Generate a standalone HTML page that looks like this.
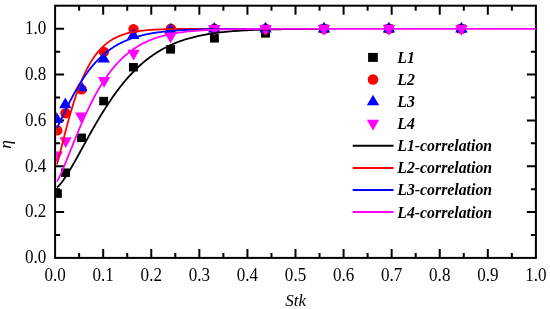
<!DOCTYPE html>
<html><head><meta charset="utf-8"><title>chart</title>
<style>
html,body{margin:0;padding:0;background:#fff;}
svg{display:block;}
text{font-family:"Liberation Serif","Times New Roman",serif;fill:#000;}
.tl{font-size:17.5px;}
.lg{font-size:15.8px;font-weight:bold;font-style:italic;}
.ax{font-size:17px;font-style:italic;}
</style></head><body>
<svg width="550" height="309" viewBox="0 0 550 309">
<rect width="550" height="309" fill="#fff"/>
<defs><clipPath id="c"><rect x="56.10" y="5.70" width="479.80" height="252.20"/></clipPath></defs>
<g stroke="#000" stroke-width="2.0" fill="none">
<rect x="55.10" y="5.70" width="480.80" height="252.20"/>
<path d="M79.14,257.90v-5.00M79.14,5.70v5.00M103.18,257.90v-9.00M103.18,5.70v9.00M127.22,257.90v-5.00M127.22,5.70v5.00M151.26,257.90v-9.00M151.26,5.70v9.00M175.30,257.90v-5.00M175.30,5.70v5.00M199.34,257.90v-9.00M199.34,5.70v9.00M223.38,257.90v-5.00M223.38,5.70v5.00M247.42,257.90v-9.00M247.42,5.70v9.00M271.46,257.90v-5.00M271.46,5.70v5.00M295.50,257.90v-9.00M295.50,5.70v9.00M319.54,257.90v-5.00M319.54,5.70v5.00M343.58,257.90v-9.00M343.58,5.70v9.00M367.62,257.90v-5.00M367.62,5.70v5.00M391.66,257.90v-9.00M391.66,5.70v9.00M415.70,257.90v-5.00M415.70,5.70v5.00M439.74,257.90v-9.00M439.74,5.70v9.00M463.78,257.90v-5.00M463.78,5.70v5.00M487.82,257.90v-9.00M487.82,5.70v9.00M511.86,257.90v-5.00M511.86,5.70v5.00M55.10,234.99h5.00M535.90,234.99h-5.00M55.10,212.08h9.00M535.90,212.08h-9.00M55.10,189.17h5.00M535.90,189.17h-5.00M55.10,166.26h9.00M535.90,166.26h-9.00M55.10,143.35h5.00M535.90,143.35h-5.00M55.10,120.44h9.00M535.90,120.44h-9.00M55.10,97.53h5.00M535.90,97.53h-5.00M55.10,74.62h9.00M535.90,74.62h-9.00M55.10,51.71h5.00M535.90,51.71h-5.00M55.10,28.80h9.00"/>
</g>
<g clip-path="url(#c)">
<rect x="52.95" y="189.35" width="8.90" height="8.50" fill="#000"/>
<rect x="61.05" y="168.45" width="8.90" height="8.50" fill="#000"/>
<rect x="77.05" y="133.55" width="8.90" height="8.50" fill="#000"/>
<rect x="99.20" y="96.85" width="8.90" height="8.50" fill="#000"/>
<rect x="128.95" y="63.00" width="8.90" height="8.50" fill="#000"/>
<rect x="166.15" y="45.15" width="8.90" height="8.50" fill="#000"/>
<rect x="209.95" y="34.05" width="8.90" height="8.50" fill="#000"/>
<rect x="261.05" y="29.15" width="8.90" height="8.50" fill="#000"/>
<rect x="319.55" y="24.55" width="8.90" height="8.50" fill="#000"/>
<rect x="384.45" y="24.55" width="8.90" height="8.50" fill="#000"/>
<rect x="456.95" y="24.55" width="8.90" height="8.50" fill="#000"/>
<circle cx="57.30" cy="130.40" r="5.20" fill="#f00"/>
<circle cx="65.50" cy="113.30" r="5.20" fill="#f00"/>
<circle cx="81.70" cy="89.40" r="5.20" fill="#f00"/>
<circle cx="103.90" cy="51.90" r="5.20" fill="#f00"/>
<circle cx="133.50" cy="29.10" r="5.20" fill="#f00"/>
<circle cx="170.90" cy="28.70" r="5.20" fill="#f00"/>
<circle cx="214.30" cy="28.80" r="5.20" fill="#f00"/>
<circle cx="265.50" cy="28.80" r="5.20" fill="#f00"/>
<circle cx="324.00" cy="28.80" r="5.20" fill="#f00"/>
<circle cx="388.90" cy="28.80" r="5.20" fill="#f00"/>
<circle cx="461.40" cy="28.80" r="5.20" fill="#f00"/>
<polygon points="56.80,112.20 50.60,122.90 63.00,122.90" fill="#00f"/>
<polygon points="65.30,97.50 59.10,108.20 71.50,108.20" fill="#00f"/>
<polygon points="81.30,80.60 75.10,91.30 87.50,91.30" fill="#00f"/>
<polygon points="103.70,51.90 97.50,62.60 109.90,62.60" fill="#00f"/>
<polygon points="133.30,28.40 127.10,39.10 139.50,39.10" fill="#00f"/>
<polygon points="170.50,23.00 164.30,33.70 176.70,33.70" fill="#00f"/>
<polygon points="214.20,21.90 208.00,32.60 220.40,32.60" fill="#00f"/>
<polygon points="265.50,21.80 259.30,32.50 271.70,32.50" fill="#00f"/>
<polygon points="324.00,21.80 317.80,32.50 330.20,32.50" fill="#00f"/>
<polygon points="388.90,21.80 382.70,32.50 395.10,32.50" fill="#00f"/>
<polygon points="461.40,21.80 455.20,32.50 467.60,32.50" fill="#00f"/>
<polygon points="541.20,21.80 535.00,32.50 547.40,32.50" fill="#00f"/>
<polygon points="56.80,162.30 50.60,151.60 63.00,151.60" fill="#f0f"/>
<polygon points="65.70,148.00 59.50,137.30 71.90,137.30" fill="#f0f"/>
<polygon points="81.20,123.30 75.00,112.60 87.40,112.60" fill="#f0f"/>
<polygon points="104.10,87.70 97.90,77.00 110.30,77.00" fill="#f0f"/>
<polygon points="133.60,60.50 127.40,49.80 139.80,49.80" fill="#f0f"/>
<polygon points="170.60,43.30 164.40,32.60 176.80,32.60" fill="#f0f"/>
<polygon points="214.30,35.70 208.10,25.00 220.50,25.00" fill="#f0f"/>
<polygon points="265.50,35.80 259.30,25.10 271.70,25.10" fill="#f0f"/>
<polygon points="324.00,35.80 317.80,25.10 330.20,25.10" fill="#f0f"/>
<polygon points="388.90,35.80 382.70,25.10 395.10,25.10" fill="#f0f"/>
<polygon points="461.40,35.80 455.20,25.10 467.60,25.10" fill="#f0f"/>
<polygon points="541.20,35.80 535.00,25.10 547.40,25.10" fill="#f0f"/>
<path d="M56.93,187.51 L57.89,186.69 L58.84,185.74 L59.80,184.70 L60.76,183.56 L61.72,182.35 L62.68,181.08 L63.63,179.75 L64.59,178.36 L65.55,176.93 L66.51,175.46 L67.47,173.95 L68.42,172.40 L69.38,170.83 L70.34,169.23 L71.30,167.60 L72.26,165.96 L73.22,164.29 L74.17,162.61 L75.13,160.91 L76.09,159.21 L77.05,157.49 L78.01,155.76 L78.96,154.03 L79.92,152.29 L80.88,150.54 L81.84,148.80 L82.80,147.05 L83.75,145.31 L84.71,143.57 L85.67,141.82 L86.63,140.09 L87.59,138.35 L88.55,136.63 L89.50,134.91 L90.46,133.20 L91.42,131.49 L92.38,129.80 L93.34,128.12 L94.29,126.44 L95.25,124.78 L96.21,123.13 L97.17,121.49 L98.13,119.87 L99.08,118.26 L100.04,116.66 L101.00,115.08 L101.96,113.51 L102.92,111.96 L103.88,110.43 L104.83,108.91 L105.79,107.40 L106.75,105.91 L107.71,104.44 L108.67,102.99 L109.62,101.56 L110.58,100.14 L111.54,98.74 L112.50,97.35 L113.46,95.99 L114.41,94.64 L115.37,93.31 L116.33,92.00 L117.29,90.71 L118.25,89.43 L119.21,88.18 L120.16,86.94 L121.12,85.72 L122.08,84.52 L123.04,83.34 L124.00,82.17 L124.95,81.03 L125.91,79.90 L126.87,78.79 L127.83,77.70 L128.79,76.63 L129.74,75.57 L130.70,74.53 L131.66,73.51 L132.62,72.51 L133.58,71.52 L134.54,70.56 L135.49,69.61 L136.45,68.67 L137.41,67.75 L138.37,66.85 L139.33,65.97 L140.28,65.10 L141.24,64.25 L142.20,63.42 L143.16,62.60 L144.12,61.80 L145.07,61.01 L146.03,60.24 L146.99,59.48 L147.95,58.74 L148.91,58.01 L149.87,57.30 L150.82,56.60 L151.78,55.92 L152.74,55.25 L153.70,54.59 L154.66,53.95 L155.61,53.32 L156.57,52.71 L157.53,52.11 L158.49,51.52 L159.45,50.94 L160.40,50.38 L161.36,49.82 L162.32,49.28 L163.28,48.76 L164.24,48.24 L165.20,47.74 L166.15,47.24 L167.11,46.76 L168.07,46.29 L169.03,45.83 L169.99,45.38 L170.94,44.94 L171.90,44.51 L172.86,44.09 L173.82,43.68 L174.78,43.28 L175.73,42.89 L176.69,42.51 L177.65,42.14 L178.61,41.77 L179.57,41.42 L180.53,41.07 L181.48,40.74 L182.44,40.41 L183.40,40.09 L184.36,39.77 L185.32,39.47 L186.27,39.17 L187.23,38.88 L188.19,38.60 L189.15,38.32 L190.11,38.05 L191.06,37.79 L192.02,37.53 L192.98,37.29 L193.94,37.04 L194.90,36.81 L195.86,36.58 L196.81,36.35 L197.77,36.13 L198.73,35.92 L199.69,35.71 L200.65,35.51 L201.60,35.32 L202.56,35.13 L203.52,34.94 L204.48,34.76 L205.44,34.58 L206.39,34.41 L207.35,34.24 L208.31,34.08 L209.27,33.93 L210.23,33.77 L211.19,33.62 L212.14,33.48 L213.10,33.34 L214.06,33.20 L215.02,33.07 L215.98,32.94 L216.93,32.81 L217.89,32.69 L218.85,32.57 L219.81,32.45 L220.77,32.34 L221.72,32.23 L222.68,32.13 L223.64,32.02 L224.60,31.92 L225.56,31.83 L226.52,31.73 L227.47,31.64 L228.43,31.55 L229.39,31.46 L230.35,31.38 L231.31,31.30 L232.26,31.22 L233.22,31.14 L234.18,31.07 L235.14,31.00 L236.10,30.93 L237.05,30.86 L238.01,30.79 L238.97,30.73 L239.93,30.67 L240.89,30.61 L241.85,30.55 L242.80,30.49 L243.76,30.44 L244.72,30.38 L245.68,30.33 L246.64,30.28 L247.59,30.23 L248.55,30.19 L249.51,30.14 L250.47,30.10 L251.43,30.05 L252.38,30.01 L253.34,29.97 L254.30,29.93 L255.26,29.90 L256.22,29.86 L257.18,29.82 L258.13,29.79 L259.09,29.76 L260.05,29.72 L261.01,29.69 L261.97,29.66 L262.92,29.63 L263.88,29.61 L264.84,29.58 L265.80,29.55 L266.76,29.53 L267.71,29.50 L268.67,29.48 L269.63,29.45 L270.59,29.43 L271.55,29.41 L272.51,29.39 L273.46,29.37 L274.42,29.35 L275.38,29.33 L276.34,29.31 L277.30,29.29 L278.25,29.28 L279.21,29.26 L280.17,29.24 L281.13,29.23 L282.09,29.21 L283.04,29.20 L284.00,29.19 L284.96,29.17 L285.92,29.16 L286.88,29.15 L287.84,29.13 L288.79,29.12 L289.75,29.11 L290.71,29.10 L291.67,29.09 L292.63,29.08 L293.58,29.07 L294.54,29.06 L295.50,29.05 L300.31,29.01 L305.12,28.97 L309.92,28.94 L314.73,28.92 L319.54,28.90" fill="none" stroke="#000" stroke-width="1.8" stroke-linejoin="round"/>
<path d="M56.93,164.44 L57.89,161.05 L58.84,157.48 L59.80,153.79 L60.76,150.04 L61.72,146.26 L62.68,142.47 L63.63,138.70 L64.59,134.95 L65.55,131.26 L66.51,127.61 L67.47,124.03 L68.42,120.51 L69.38,117.07 L70.34,113.71 L71.30,110.43 L72.26,107.23 L73.22,104.12 L74.17,101.10 L75.13,98.17 L76.09,95.32 L77.05,92.56 L78.01,89.89 L78.96,87.31 L79.92,84.82 L80.88,82.41 L81.84,80.08 L82.80,77.84 L83.75,75.68 L84.71,73.59 L85.67,71.59 L86.63,69.66 L87.59,67.81 L88.55,66.03 L89.50,64.32 L90.46,62.67 L91.42,61.10 L92.38,59.58 L93.34,58.13 L94.29,56.75 L95.25,55.41 L96.21,54.14 L97.17,52.92 L98.13,51.75 L99.08,50.64 L100.04,49.57 L101.00,48.55 L101.96,47.58 L102.92,46.65 L103.88,45.76 L104.83,44.91 L105.79,44.10 L106.75,43.33 L107.71,42.59 L108.67,41.89 L109.62,41.22 L110.58,40.59 L111.54,39.98 L112.50,39.40 L113.46,38.85 L114.41,38.33 L115.37,37.83 L116.33,37.36 L117.29,36.91 L118.25,36.48 L119.21,36.07 L120.16,35.69 L121.12,35.32 L122.08,34.97 L123.04,34.64 L124.00,34.33 L124.95,34.03 L125.91,33.74 L126.87,33.48 L127.83,33.22 L128.79,32.98 L129.74,32.75 L130.70,32.53 L131.66,32.33 L132.62,32.13 L133.58,31.95 L134.54,31.77 L135.49,31.61 L136.45,31.45 L137.41,31.30 L138.37,31.16 L139.33,31.03 L140.28,30.90 L141.24,30.78 L142.20,30.67 L143.16,30.56 L144.12,30.46 L145.07,30.37 L146.03,30.28 L146.99,30.19 L147.95,30.11 L148.91,30.04 L149.87,29.97 L150.82,29.90 L151.78,29.83 L152.74,29.77 L153.70,29.72 L154.66,29.66 L155.61,29.61 L156.57,29.57 L157.53,29.52 L158.49,29.48 L159.45,29.44 L160.40,29.40 L161.36,29.36 L162.32,29.33 L163.28,29.30 L164.24,29.27 L165.20,29.24 L166.15,29.21 L167.11,29.19 L168.07,29.17 L169.03,29.14 L169.99,29.12 L170.94,29.10 L171.90,29.09 L172.86,29.07 L173.82,29.05 L174.78,29.04 L175.73,29.02 L176.69,29.01 L177.65,29.00 L178.61,28.98 L179.57,28.97 L180.53,28.96 L181.48,28.95 L182.44,28.94 L183.40,28.93 L184.36,28.93 L185.32,28.92 L186.27,28.91 L187.23,28.90 L188.19,28.90 L189.15,28.89 L190.11,28.89 L191.06,28.88 L192.02,28.87 L192.98,28.87 L193.94,28.87 L194.90,28.86 L195.86,28.86 L196.81,28.85 L197.77,28.85 L198.73,28.85 L199.69,28.84 L200.65,28.84 L201.60,28.84 L202.56,28.84 L203.52,28.83 L204.48,28.83 L205.44,28.83 L206.39,28.83 L207.35,28.83 L208.31,28.82 L209.27,28.82 L210.23,28.82 L211.19,28.82 L212.14,28.82 L213.10,28.82 L214.06,28.82 L215.02,28.82 L215.98,28.81 L216.93,28.81 L217.89,28.81 L218.85,28.81 L219.81,28.81 L220.77,28.81 L221.72,28.81 L222.68,28.81 L223.64,28.81 L224.60,28.81 L225.56,28.81 L226.52,28.81 L227.47,28.81 L228.43,28.81 L229.39,28.81 L230.35,28.81 L231.31,28.80 L232.26,28.80 L233.22,28.80 L234.18,28.80 L235.14,28.80 L236.10,28.80 L237.05,28.80 L238.01,28.80 L238.97,28.80 L239.93,28.80 L240.89,28.80 L241.85,28.80 L242.80,28.80 L243.76,28.80 L244.72,28.80 L245.68,28.80 L246.64,28.80 L247.59,28.80 L248.55,28.80 L249.51,28.80 L250.47,28.80 L251.43,28.80 L252.38,28.80 L253.34,28.80 L254.30,28.80 L255.26,28.80 L256.22,28.80 L257.18,28.80 L258.13,28.80 L259.09,28.80 L260.05,28.80 L261.01,28.80 L261.97,28.80 L262.92,28.80 L263.88,28.80 L264.84,28.80 L265.80,28.80 L266.76,28.80 L267.71,28.80 L268.67,28.80" fill="none" stroke="#f00" stroke-width="1.8" stroke-linejoin="round"/>
<path d="M56.93,127.97 L57.89,126.16 L58.84,124.27 L59.80,122.33 L60.76,120.35 L61.72,118.36 L62.68,116.35 L63.63,114.35 L64.59,112.35 L65.55,110.36 L66.51,108.39 L67.47,106.43 L68.42,104.50 L69.38,102.59 L70.34,100.70 L71.30,98.85 L72.26,97.02 L73.22,95.22 L74.17,93.45 L75.13,91.71 L76.09,90.00 L77.05,88.33 L78.01,86.69 L78.96,85.08 L79.92,83.51 L80.88,81.96 L81.84,80.46 L82.80,78.98 L83.75,77.54 L84.71,76.13 L85.67,74.76 L86.63,73.41 L87.59,72.10 L88.55,70.82 L89.50,69.57 L90.46,68.36 L91.42,67.17 L92.38,66.01 L93.34,64.88 L94.29,63.79 L95.25,62.72 L96.21,61.68 L97.17,60.66 L98.13,59.68 L99.08,58.72 L100.04,57.78 L101.00,56.88 L101.96,55.99 L102.92,55.14 L103.88,54.30 L104.83,53.49 L105.79,52.70 L106.75,51.94 L107.71,51.20 L108.67,50.47 L109.62,49.77 L110.58,49.09 L111.54,48.43 L112.50,47.79 L113.46,47.17 L114.41,46.57 L115.37,45.98 L116.33,45.42 L117.29,44.87 L118.25,44.33 L119.21,43.82 L120.16,43.32 L121.12,42.83 L122.08,42.36 L123.04,41.90 L124.00,41.46 L124.95,41.03 L125.91,40.62 L126.87,40.22 L127.83,39.83 L128.79,39.45 L129.74,39.09 L130.70,38.73 L131.66,38.39 L132.62,38.06 L133.58,37.74 L134.54,37.43 L135.49,37.13 L136.45,36.84 L137.41,36.56 L138.37,36.29 L139.33,36.03 L140.28,35.78 L141.24,35.53 L142.20,35.30 L143.16,35.07 L144.12,34.84 L145.07,34.63 L146.03,34.42 L146.99,34.22 L147.95,34.03 L148.91,33.84 L149.87,33.66 L150.82,33.49 L151.78,33.32 L152.74,33.16 L153.70,33.00 L154.66,32.85 L155.61,32.70 L156.57,32.56 L157.53,32.43 L158.49,32.30 L159.45,32.17 L160.40,32.05 L161.36,31.93 L162.32,31.81 L163.28,31.70 L164.24,31.60 L165.20,31.49 L166.15,31.39 L167.11,31.30 L168.07,31.21 L169.03,31.12 L169.99,31.03 L170.94,30.95 L171.90,30.87 L172.86,30.79 L173.82,30.72 L174.78,30.65 L175.73,30.58 L176.69,30.51 L177.65,30.45 L178.61,30.39 L179.57,30.33 L180.53,30.27 L181.48,30.21 L182.44,30.16 L183.40,30.11 L184.36,30.06 L185.32,30.01 L186.27,29.97 L187.23,29.92 L188.19,29.88 L189.15,29.84 L190.11,29.80 L191.06,29.76 L192.02,29.72 L192.98,29.69 L193.94,29.65 L194.90,29.62 L195.86,29.59 L196.81,29.56 L197.77,29.53 L198.73,29.50 L199.69,29.48 L200.65,29.45 L201.60,29.42 L202.56,29.40 L203.52,29.38 L204.48,29.35 L205.44,29.33 L206.39,29.31 L207.35,29.29 L208.31,29.27 L209.27,29.25 L210.23,29.24 L211.19,29.22 L212.14,29.20 L213.10,29.19 L214.06,29.17 L215.02,29.16 L215.98,29.14 L216.93,29.13 L217.89,29.12 L218.85,29.10 L219.81,29.09 L220.77,29.08 L221.72,29.07 L222.68,29.06 L223.64,29.05 L224.60,29.04 L225.56,29.03 L226.52,29.02 L227.47,29.01 L228.43,29.00 L229.39,28.99 L230.35,28.99 L231.31,28.98 L232.26,28.97 L233.22,28.97 L234.18,28.96 L235.14,28.95 L236.10,28.95 L237.05,28.94 L238.01,28.93 L238.97,28.93 L239.93,28.92 L240.89,28.92 L241.85,28.91 L242.80,28.91 L243.76,28.91 L244.72,28.90 L245.68,28.90 L246.64,28.89 L247.59,28.89 L248.55,28.89 L249.51,28.88 L250.47,28.88 L251.43,28.88 L252.38,28.87 L253.34,28.87 L254.30,28.87 L255.26,28.86 L256.22,28.86 L257.18,28.86 L258.13,28.86 L259.09,28.85 L260.05,28.85 L261.01,28.85 L261.97,28.85 L262.92,28.85 L263.88,28.84 L264.84,28.84 L265.80,28.84 L266.76,28.84 L267.71,28.84 L268.67,28.84" fill="none" stroke="#00f" stroke-width="1.8" stroke-linejoin="round"/>
<path d="M56.93,181.59 L57.89,179.92 L58.84,178.08 L59.80,176.11 L60.76,174.04 L61.72,171.90 L62.68,169.69 L63.63,167.43 L64.59,165.13 L65.55,162.80 L66.51,160.44 L67.47,158.06 L68.42,155.67 L69.38,153.28 L70.34,150.88 L71.30,148.48 L72.26,146.08 L73.22,143.69 L74.17,141.32 L75.13,138.96 L76.09,136.61 L77.05,134.28 L78.01,131.97 L78.96,129.68 L79.92,127.42 L80.88,125.18 L81.84,122.97 L82.80,120.78 L83.75,118.62 L84.71,116.49 L85.67,114.40 L86.63,112.33 L87.59,110.29 L88.55,108.29 L89.50,106.31 L90.46,104.37 L91.42,102.47 L92.38,100.59 L93.34,98.75 L94.29,96.95 L95.25,95.17 L96.21,93.43 L97.17,91.73 L98.13,90.05 L99.08,88.42 L100.04,86.81 L101.00,85.24 L101.96,83.70 L102.92,82.19 L103.88,80.72 L104.83,79.27 L105.79,77.86 L106.75,76.49 L107.71,75.14 L108.67,73.82 L109.62,72.54 L110.58,71.28 L111.54,70.05 L112.50,68.86 L113.46,67.69 L114.41,66.55 L115.37,65.44 L116.33,64.35 L117.29,63.29 L118.25,62.26 L119.21,61.26 L120.16,60.28 L121.12,59.33 L122.08,58.40 L123.04,57.49 L124.00,56.61 L124.95,55.76 L125.91,54.92 L126.87,54.11 L127.83,53.32 L128.79,52.55 L129.74,51.81 L130.70,51.08 L131.66,50.38 L132.62,49.69 L133.58,49.02 L134.54,48.38 L135.49,47.75 L136.45,47.14 L137.41,46.54 L138.37,45.96 L139.33,45.41 L140.28,44.86 L141.24,44.33 L142.20,43.82 L143.16,43.33 L144.12,42.84 L145.07,42.38 L146.03,41.92 L146.99,41.48 L147.95,41.06 L148.91,40.65 L149.87,40.25 L150.82,39.86 L151.78,39.48 L152.74,39.12 L153.70,38.76 L154.66,38.42 L155.61,38.09 L156.57,37.77 L157.53,37.46 L158.49,37.16 L159.45,36.87 L160.40,36.59 L161.36,36.32 L162.32,36.05 L163.28,35.80 L164.24,35.55 L165.20,35.31 L166.15,35.08 L167.11,34.86 L168.07,34.64 L169.03,34.43 L169.99,34.23 L170.94,34.04 L171.90,33.85 L172.86,33.67 L173.82,33.49 L174.78,33.32 L175.73,33.15 L176.69,33.00 L177.65,32.84 L178.61,32.69 L179.57,32.55 L180.53,32.41 L181.48,32.28 L182.44,32.15 L183.40,32.03 L184.36,31.91 L185.32,31.79 L186.27,31.68 L187.23,31.57 L188.19,31.47 L189.15,31.37 L190.11,31.27 L191.06,31.18 L192.02,31.09 L192.98,31.00 L193.94,30.92 L194.90,30.84 L195.86,30.76 L196.81,30.69 L197.77,30.61 L198.73,30.54 L199.69,30.48 L200.65,30.41 L201.60,30.35 L202.56,30.29 L203.52,30.23 L204.48,30.18 L205.44,30.12 L206.39,30.07 L207.35,30.02 L208.31,29.98 L209.27,29.93 L210.23,29.88 L211.19,29.84 L212.14,29.80 L213.10,29.76 L214.06,29.72 L215.02,29.69 L215.98,29.65 L216.93,29.62 L217.89,29.59 L218.85,29.55 L219.81,29.52 L220.77,29.50 L221.72,29.47 L222.68,29.44 L223.64,29.41 L224.60,29.39 L225.56,29.37 L226.52,29.34 L227.47,29.32 L228.43,29.30 L229.39,29.28 L230.35,29.26 L231.31,29.24 L232.26,29.22 L233.22,29.21 L234.18,29.19 L235.14,29.17 L236.10,29.16 L237.05,29.14 L238.01,29.13 L238.97,29.12 L239.93,29.10 L240.89,29.09 L241.85,29.08 L242.80,29.07 L243.76,29.06 L244.72,29.04 L245.68,29.03 L246.64,29.02 L247.59,29.02 L248.55,29.01 L249.51,29.00 L250.47,28.99 L251.43,28.98 L252.38,28.97 L253.34,28.97 L254.30,28.96 L255.26,28.95 L256.22,28.95 L257.18,28.94 L258.13,28.93 L259.09,28.93 L260.05,28.92 L261.01,28.92 L261.97,28.91 L262.92,28.91 L263.88,28.90 L264.84,28.90 L265.80,28.89 L266.76,28.89 L267.71,28.89 L268.67,28.88 L269.63,28.88 L270.59,28.88 L271.55,28.87 L272.51,28.87 L273.46,28.87 L274.42,28.86 L275.38,28.86 L276.34,28.86 L277.30,28.86 L278.25,28.85 L279.21,28.85 L280.17,28.85 L281.13,28.85 L282.09,28.84 L283.04,28.84 L284.00,28.84 L284.96,28.84 L285.92,28.84 L286.88,28.84 L287.84,28.83 L288.79,28.83 L289.75,28.83 L290.71,28.83 L291.67,28.83 L292.63,28.83 L293.58,28.83 L294.54,28.82 L295.50,28.82 L300.31,28.82 L305.12,28.81 L309.92,28.81 L314.73,28.81 L319.54,28.81 L324.35,28.81 L329.16,28.80 L333.96,28.80 L338.77,28.80 L343.58,28.80 L348.39,28.80 L353.20,28.80 L358.00,28.80 L362.81,28.80 L367.62,28.80 L372.43,28.80 L377.24,28.80 L382.04,28.80 L386.85,28.80 L391.66,28.80 L396.47,28.80 L401.28,28.80 L406.08,28.80 L410.89,28.80 L415.70,28.80 L420.51,28.80 L425.32,28.80 L430.12,28.80 L434.93,28.80 L439.74,28.80 L444.55,28.80 L449.36,28.80 L454.16,28.80 L458.97,28.80 L463.78,28.80 L468.59,28.80 L473.40,28.80 L478.20,28.80 L483.01,28.80 L487.82,28.80 L492.63,28.80 L497.44,28.80 L502.24,28.80 L507.05,28.80 L511.86,28.80 L516.67,28.80 L521.48,28.80 L526.28,28.80 L531.09,28.80 L535.90,28.80" fill="none" stroke="#f0f" stroke-width="1.8" stroke-linejoin="round"/>
</g>
<text class="tl" transform="translate(55.10,280.5) scale(0.975,1.06)" text-anchor="middle">0.0</text>
<text class="tl" transform="translate(103.18,280.5) scale(0.975,1.06)" text-anchor="middle">0.1</text>
<text class="tl" transform="translate(151.26,280.5) scale(0.975,1.06)" text-anchor="middle">0.2</text>
<text class="tl" transform="translate(199.34,280.5) scale(0.975,1.06)" text-anchor="middle">0.3</text>
<text class="tl" transform="translate(247.42,280.5) scale(0.975,1.06)" text-anchor="middle">0.4</text>
<text class="tl" transform="translate(295.50,280.5) scale(0.975,1.06)" text-anchor="middle">0.5</text>
<text class="tl" transform="translate(343.58,280.5) scale(0.975,1.06)" text-anchor="middle">0.6</text>
<text class="tl" transform="translate(391.66,280.5) scale(0.975,1.06)" text-anchor="middle">0.7</text>
<text class="tl" transform="translate(439.74,280.5) scale(0.975,1.06)" text-anchor="middle">0.8</text>
<text class="tl" transform="translate(487.82,280.5) scale(0.975,1.06)" text-anchor="middle">0.9</text>
<text class="tl" transform="translate(535.90,280.5) scale(0.975,1.06)" text-anchor="middle">1.0</text>
<text class="tl" transform="translate(46.4,263.30) scale(0.975,1.06)" text-anchor="end">0.0</text>
<text class="tl" transform="translate(46.4,217.48) scale(0.975,1.06)" text-anchor="end">0.2</text>
<text class="tl" transform="translate(46.4,171.66) scale(0.975,1.06)" text-anchor="end">0.4</text>
<text class="tl" transform="translate(46.4,125.84) scale(0.975,1.06)" text-anchor="end">0.6</text>
<text class="tl" transform="translate(46.4,80.02) scale(0.975,1.06)" text-anchor="end">0.8</text>
<text class="tl" transform="translate(46.4,34.20) scale(0.975,1.06)" text-anchor="end">1.0</text>
<text class="ax" x="295.6" y="305.8" text-anchor="middle">Stk</text>
<text class="ax" style="font-size:17.5px" transform="translate(11.0,144.3) rotate(-90)" text-anchor="middle">η</text>
<rect x="368.1" y="52.9" width="9.7" height="9.0" fill="#000"/>
<circle cx="373.00" cy="79.50" r="5.30" fill="#f00"/>
<polygon points="373.00,94.65 366.80,105.35 379.20,105.35" fill="#00f"/>
<polygon points="373.00,130.45 366.80,119.75 379.20,119.75" fill="#f0f"/>
<path d="M352.7,145.80H393.5" stroke="#000" stroke-width="2"/>
<path d="M352.7,167.90H393.5" stroke="#f00" stroke-width="2"/>
<path d="M352.7,190.00H393.5" stroke="#00f" stroke-width="2"/>
<path d="M352.7,212.10H393.5" stroke="#f0f" stroke-width="2"/>
<text class="lg" x="397.3" y="62.80">L1</text>
<text class="lg" x="397.3" y="84.90">L2</text>
<text class="lg" x="397.3" y="107.00">L3</text>
<text class="lg" x="397.3" y="129.10">L4</text>
<text class="lg" x="397.3" y="151.20">L1-correlation</text>
<text class="lg" x="397.3" y="173.30">L2-correlation</text>
<text class="lg" x="397.3" y="195.40">L3-correlation</text>
<text class="lg" x="397.3" y="217.50">L4-correlation</text>
</svg></body></html>
